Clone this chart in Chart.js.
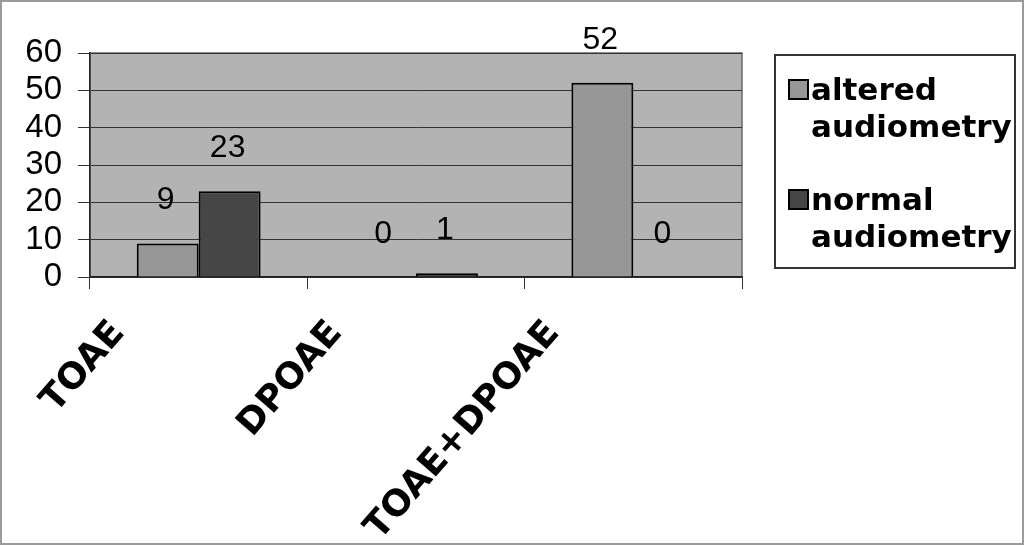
<!DOCTYPE html>
<html>
<head>
<meta charset="utf-8">
<script src="https://cdn.jsdelivr.net/npm/chart.js@4.4.0/dist/chart.umd.min.js"></script>
<style>
  html, body { margin: 0; padding: 0; background: #fff; }
  #frame {
    position: relative;
    width: 1024px; height: 545px;
    box-sizing: border-box;
    border: 2px solid #9a9a9a;
  }
  #wrap { position: absolute; left: 0; top: 0; width: 1020px; height: 541px; }
  #legend {
    position: absolute;
    left: 772px; top: 52px;
    width: 242px; height: 215px;
    box-sizing: border-box;
    border: 2px solid #333;
    padding: 15px 0 0 12px;
    font: bold 31px "DejaVu Sans", Verdana, sans-serif;
    line-height: 37px;
    color: #000;
  }
  .item { display: flex; align-items: flex-start; margin-bottom: 36px; }
  .sw {
    flex: none;
    width: 17px; height: 17px;
    border: 2px solid #000;
    margin: 8px 2px 0 0;
  }
  .txt { width: 210px; }
</style>
</head>
<body>
<div id="frame">
  <div id="wrap"><canvas id="chart"></canvas></div>
  <div id="legend"></div>
</div>
<script>
const categories = ['TOAE', 'DPOAE', 'TOAE+DPOAE'];
const seriesNames = ['altered audiometry', 'normal audiometry'];
const alteredValues = [9, 0, 52];
const normalValues = [23, 1, 0];
const seriesColors = ['#979797', '#464646'];
const yTicks = [0, 10, 20, 30, 40, 50, 60];

const valueFont = '32px "Liberation Sans", Arial, sans-serif';

// grey plot area with a border, like the old spreadsheet chart
const plotArea = {
  id: 'plotArea',
  beforeDraw(chart) {
    const { ctx, chartArea: a } = chart;
    ctx.save();
    ctx.fillStyle = '#b3b3b3';
    ctx.fillRect(a.left, a.top, a.right - a.left, a.bottom - a.top);
    ctx.strokeStyle = '#6a6a6a';
    ctx.lineWidth = 1.5;
    ctx.strokeRect(a.left, a.top, a.right - a.left, a.bottom - a.top);
    ctx.restore();
  }
};

// numbers above the bars
const valueLabels = {
  id: 'valueLabels',
  afterDatasetsDraw(chart) {
    const { ctx } = chart;
    ctx.save();
    ctx.font = valueFont;
    ctx.fillStyle = '#000';
    ctx.textAlign = 'center';
    ctx.textBaseline = 'middle';
    chart.data.datasets.forEach((ds, i) => {
      chart.getDatasetMeta(i).data.forEach((bar, j) => {
        ctx.fillText(String(ds.data[j]), bar.x - 2, bar.y - 43);
      });
    });
    ctx.restore();
  }
};

const chart = new Chart(document.getElementById('chart').getContext('2d'), {
  type: 'bar',
  data: {
    labels: categories,
    datasets: [
      { label: seriesNames[0], data: alteredValues, backgroundColor: seriesColors[0] },
      { label: seriesNames[1], data: normalValues, backgroundColor: seriesColors[1] },
    ]
  },
  options: {
    responsive: true,
    maintainAspectRatio: false,
    animation: false,
    layout: { padding: { left: 0, top: 51, right: 280, bottom: 0 } },
    datasets: {
      bar: {
        borderColor: '#000',
        borderWidth: 2,
        borderSkipped: 'start',
        categoryPercentage: 0.57,
        barPercentage: 1.0
      }
    },
    plugins: {
      legend: { display: false },
      tooltip: { enabled: false }
    },
    scales: {
      x: {
        afterFit: (s) => { s.height = 266; },
        grid: {
          display: true,
          drawOnChartArea: false,
          drawTicks: true,
          tickLength: 12,
          color: '#333',
          lineWidth: 1
        },
        border: { display: true, color: '#222', width: 1.5 },
        ticks: {
          autoSkip: false,
          minRotation: 49,
          maxRotation: 49,
          labelOffset: -80,
          padding: 24,
          color: '#000',
          font: { family: '"DejaVu Sans", Verdana, sans-serif', size: 36, weight: 'bold' }
        }
      },
      y: {
        min: 0,
        max: 60,
        afterFit: (s) => { s.width = 88; },
        afterBuildTicks: (s) => { s.ticks = yTicks.map(v => ({ value: v })); },
        grid: {
          color: '#333',
          lineWidth: 1,
          drawTicks: true,
          tickLength: 12
        },
        border: { display: true, color: '#222', width: 1.5 },
        ticks: {
          autoSkip: false,
          padding: 16,
          color: '#000',
          font: { family: '"Liberation Sans", Arial, sans-serif', size: 33 }
        }
      }
    }
  },
  plugins: [plotArea, valueLabels]
});

// boxed legend on the right, built from the datasets
const legendEl = document.getElementById('legend');
chart.data.datasets.forEach((ds) => {
  const item = document.createElement('div');
  item.className = 'item';
  const sw = document.createElement('span');
  sw.className = 'sw';
  sw.style.background = ds.backgroundColor;
  const txt = document.createElement('span');
  txt.className = 'txt';
  txt.textContent = ds.label;
  item.appendChild(sw);
  item.appendChild(txt);
  legendEl.appendChild(item);
});
</script>
</body>
</html>
